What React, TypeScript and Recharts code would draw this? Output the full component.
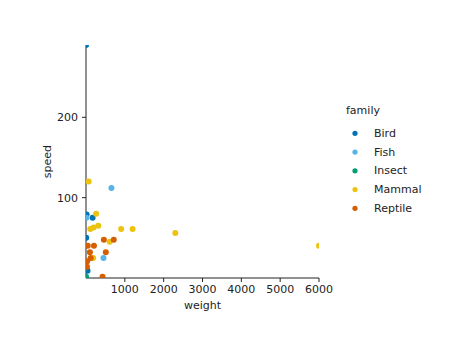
import { ScatterChart, Scatter, XAxis, YAxis, Label } from "recharts"

const families = ["Bird", "Fish", "Insect", "Mammal", "Reptile"]
const colors = ["#0173b2", "#56b4e9", "#029e73", "#ecc30f", "#d55e00"]

// weight / speed, per family
const birdWeight = [1, 15, 170, 5, 40]
const birdSpeed = [290, 79, 75, 50, 9]

const fishWeight = [655, 8, 450, 3]
const fishSpeed = [112, 75, 25, 20]

const insectWeight = [2]
const insectSpeed = [1.5]

const mammalWeight = [70, 260, 110, 195, 315, 905, 1200, 2300, 6000, 610, 185]
const mammalSpeed = [120, 80, 61, 63, 65, 61, 61, 56, 40, 45, 25]

const reptileWeight = [460, 715, 45, 205, 100, 510, 120, 30, 25, 425]
const reptileSpeed = [47.5, 47.5, 40, 40, 32, 32, 25, 21, 14, 1.5]

const xTicks = [1000, 2000, 3000, 4000, 5000, 6000]
const yTicks = [100, 200]

const toPoints = (w: number[], s: number[]) => w.map((weight, i) => ({ weight, speed: s[i] }))

const series = [
  toPoints(birdWeight, birdSpeed),
  toPoints(fishWeight, fishSpeed),
  toPoints(insectWeight, insectSpeed),
  toPoints(mammalWeight, mammalSpeed),
  toPoints(reptileWeight, reptileSpeed),
]

const font = "DejaVu Sans"
const tickStyle = { fill: "#222", fontSize: 11, fontFamily: font }

const renderYLabel = (props: any) => {
  const { x, y, height } = props.viewBox
  const cx = x + 21
  const cy = y + height / 2
  return (
    <text x={cx} y={cy} transform={`rotate(-90, ${cx}, ${cy})`} textAnchor="middle"
      dominantBaseline="central" fill="#222" fontSize={11} fontFamily={font}>
      speed
    </text>
  )
}

const renderXLabel = (props: any) => {
  const { x, y, width } = props.viewBox
  return (
    <text x={x + width / 2} y={y + 27} textAnchor="middle" dominantBaseline="central"
      fill="#222" fontSize={11} fontFamily={font}>
      weight
    </text>
  )
}

function FamilyLegend() {
  return (
    <svg width={110} height={125} style={{ position: "absolute", left: 340, top: 98 }}>
      <text x={6} y={12.7} dominantBaseline="central" fill="#222" fontSize={11} fontFamily={font}>
        family
      </text>
      {families.map((f, i) => (
        <g key={f}>
          <circle cx={15} cy={35.3 + i * 18.75} r={2.6} fill={colors[i]} />
          <text x={34} y={35.3 + i * 18.75} dominantBaseline="central" fill="#222" fontSize={11} fontFamily={font}>
            {f}
          </text>
        </g>
      ))}
    </svg>
  )
}

export default function App() {
  return (
    <div style={{ position: "absolute", left: 0, top: 0, width: 474, height: 355, background: "#fff" }}>
      <ScatterChart width={474} height={355} margin={{ top: 45, right: 155, bottom: 37, left: 26 }}>
        <XAxis
          type="number"
          dataKey="weight"
          domain={[0, 6000]}
          allowDataOverflow
          ticks={xTicks}
          interval={0}
          height={40}
          tick={tickStyle}
          tickSize={4}
          tickMargin={3}
          axisLine={{ stroke: "#222" }}
          tickLine={{ stroke: "#222" }}
        >
          <Label content={renderXLabel} />
        </XAxis>
        <YAxis
          type="number"
          dataKey="speed"
          domain={[0, 290]}
          allowDataOverflow
          ticks={yTicks}
          interval={0}
          width={60}
          tick={tickStyle}
          tickSize={4}
          tickMargin={4}
          axisLine={{ stroke: "#222" }}
          tickLine={{ stroke: "#222" }}
        >
          <Label content={renderYLabel} />
        </YAxis>
        {series.map((pts, i) => (
          <Scatter
            key={families[i]}
            name={families[i]}
            data={pts}
            fill={colors[i]}
            isAnimationActive={false}
            shape={(p: any) => <circle cx={p.cx} cy={p.cy} r={3} fill={colors[i]} />}
          />
        ))}
      </ScatterChart>
      <FamilyLegend />
    </div>
  )
}
